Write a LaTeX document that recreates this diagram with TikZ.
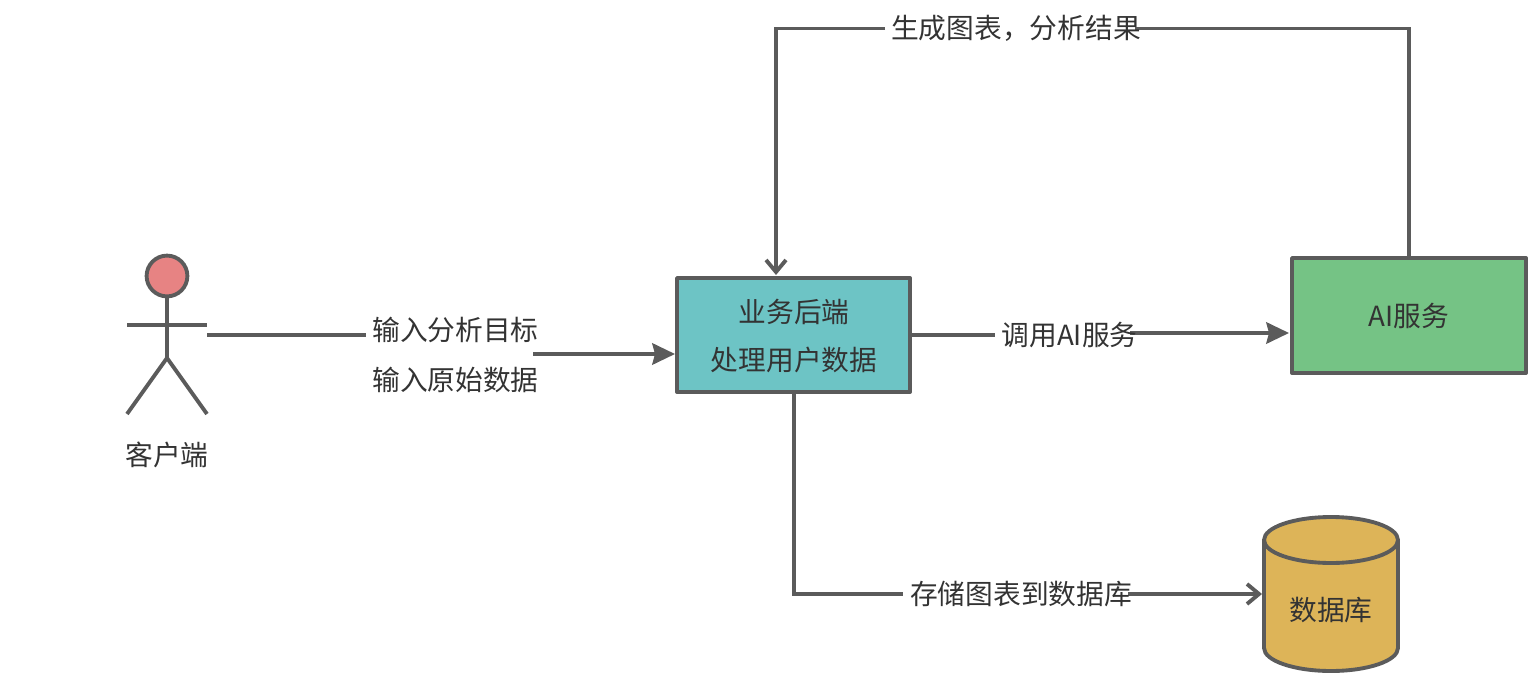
\documentclass[tikz,border=0pt]{standalone}
\usepackage{fontspec}
\setmainfont{Noto Sans CJK SC}
\usetikzlibrary{arrows.meta}
\definecolor{ln}{HTML}{5B5B5B}
\definecolor{txt}{HTML}{333333}
\definecolor{teal}{HTML}{6DC4C5}
\definecolor{grn}{HTML}{75C385}
\definecolor{gold}{HTML}{DDB458}
\definecolor{pnk}{HTML}{E78383}
\tikzset{
  shp/.style={draw=ln,line width=2.9pt,line join=round},
  conn/.style={draw=ln,line width=2.9pt},
  lbl/.style={text=txt,font=\fontsize{20.8pt}{37.5pt}\selectfont,inner sep=0pt,align=center},
  boxlbl/.style={lbl,font=\fontsize{20.8pt}{36pt}\selectfont},
  openhead/.style={-{Straight Barb[length=9pt,width=15pt,line width=2.9pt]}},
  fillhead/.style={-{Stealth[length=17pt,width=16pt,inset=2pt]}},
}
\begin{document}
\begin{tikzpicture}[x=0.75pt,y=-0.75pt]
\useasboundingbox (0,0) rectangle (1540,677);
% backend, AI
\path[shp,fill=teal] (677,278) rectangle (910,392);
\coordinate (bN) at (776,275);
\coordinate (bE) at (912,335);
\coordinate (bW) at (675,354);
\coordinate (bS) at (794,393);
\path[shp,fill=grn] (1292,258) rectangle (1526,373);
\coordinate (aN) at (1409,258);
\coordinate (aW) at (1289,333);
% cylinder
\path[shp,fill=gold] (1264,540) -- (1264,648)
  .. controls (1264,660.7) and (1294,671) .. (1331,671)
  .. controls (1368,671) and (1398,660.7) .. (1398,648)
  -- (1398,540)
  .. controls (1398,527.3) and (1368,517) .. (1331,517)
  .. controls (1294,517) and (1264,527.3) .. (1264,540) -- cycle;
\draw[shp] (1264,540) .. controls (1264,552.7) and (1294,563) .. (1331,563)
  .. controls (1368,563) and (1398,552.7) .. (1398,540);
\coordinate (dbW) at (1262,594);
% actor
\path[shp,fill=pnk] (167,276) circle[radius=15.3pt];
\coordinate (neck) at (167,297);
\coordinate (hip) at (167,358);
\draw[conn] (neck) -- (hip);
\draw[conn] (127,325) -- (207,325);
\draw[conn] (127,414) -- (hip) -- (207,414);
% free connector points next to the labels
\coordinate (actE) at (207,335);
\coordinate (l1a) at (366,335);
\coordinate (l1b) at (533,354);
\coordinate (l2a) at (995,335);
\coordinate (l2b) at (1130,333);
\coordinate (l3a) at (903,594);
\coordinate (l3b) at (1128,594);
\coordinate (l4a) at (1135,28.5);
\coordinate (l4b) at (885,28.5);
% connectors
\draw[conn] (actE) -- (l1a);
\draw[conn,fillhead] (l1b) -- (bW);
\draw[conn] (bE) -- (l2a);
\draw[conn,fillhead] (l2b) -- (aW);
\draw[conn] (bS) |- (l3a);
\draw[conn,openhead] (l3b) -- (dbW);
\draw[conn] (aN) |- (l4a);
\draw[conn,openhead] (l4b) -| (bN);
% labels
\node[lbl] (t1) at (455.5,355) {输入分析目标\\输入原始数据};
\node[boxlbl] (t2) at (794,336) {业务后端\\处理用户数据};
\node[lbl] (t3) at (1069.5,335) {调用AI服务};
\node[lbl] (t4) at (1409,316) {AI服务};
\node[lbl] (t5) at (1021,594) {存储图表到数据库};
\node[lbl] (t6) at (1016,28) {生成图表，分析结果};
\node[lbl] (t7) at (1331,610) {数据库};
\node[lbl] (t8) at (167,455) {客户端};
\end{tikzpicture}
\end{document}
